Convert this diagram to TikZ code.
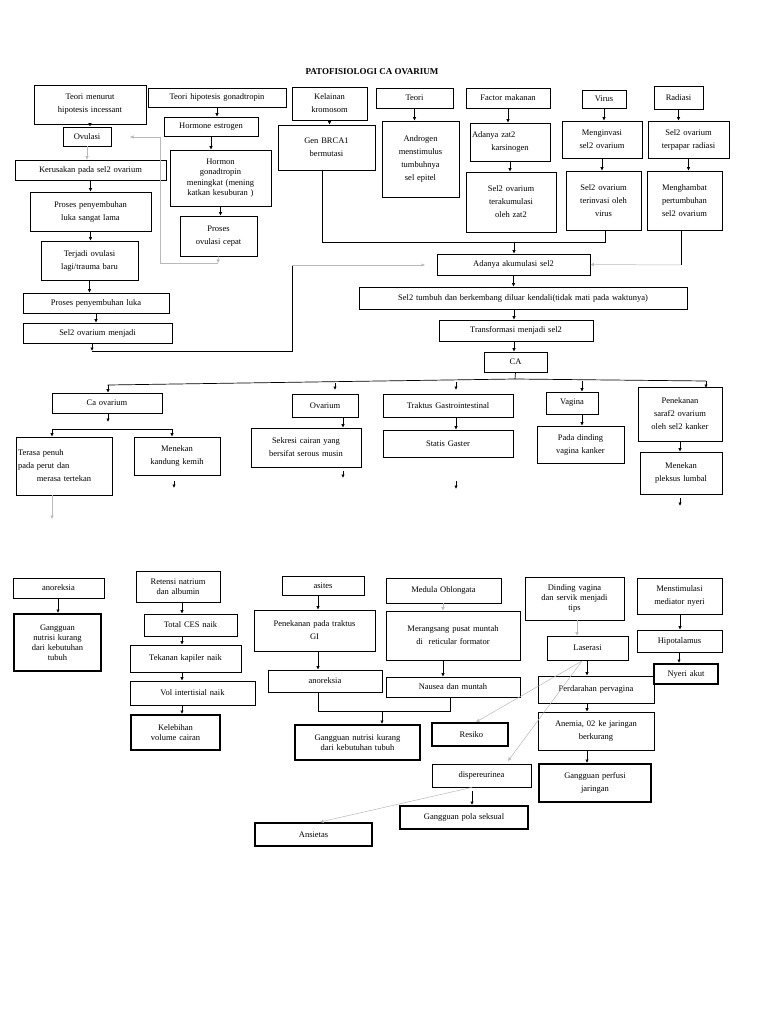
\documentclass[tikz,border=0pt]{standalone}
\usepackage{fontspec}
\setmainfont{Liberation Serif}
\usetikzlibrary{arrows.meta}
\tikzset{
 bx/.style={draw,line width=0.7pt,align=center,inner sep=1pt,font=\fontsize{8.5}{13}\selectfont},
 tk/.style={bx,line width=2pt},
 ar/.style={-{Latex[length=3.5pt,width=3.5pt]},line width=0.7pt},
 gar/.style={ar,draw=gray!55,line width=0.5pt},
 gl/.style={draw=gray!55,line width=0.5pt},
 ln/.style={line width=0.7pt}
}
\newcommand{\mybox}[7][bx]{%
 \pgfmathsetmacro{\cxx}{(#3+#5)/2}\pgfmathsetmacro{\cyy}{(#4+#6)/2}%
 \pgfmathsetmacro{\ww}{#5-#3}\pgfmathsetmacro{\hh}{#6-#4}\pgfmathsetmacro{\tw}{#5-#3-4}%
 \node[#1,minimum width=\ww pt,minimum height=\hh pt,text width=\tw pt] (#2) at (\cxx,\cyy) {#7};}
\newcommand{\down}[3][ar]{\draw[#1] (#2.south) -- (#2.south |- #3.north);}
\begin{document}
\begin{tikzpicture}[x=1pt,y=-1pt]
\useasboundingbox (0,0) rectangle (768,1024);
\fill[white] (0,0) rectangle (768,1024);
\node[font=\fontsize{9}{11}\selectfont\bfseries] (title) at (372,72) {PATOFISIOLOGI CA OVARIUM};
% left column
\mybox{t1}{34}{85}{146}{124}{Teori menurut\\hipotesis incessant}
\mybox{ov}{63}{127}{111}{146}{Ovulasi}
\mybox{ker}{15}{160}{166}{180}{Kerusakan pada sel2 ovarium}
\mybox{pp}{30}{192}{151}{231}{Proses penyembuhan\\luka sangat lama}
\mybox{tj}{41}{241}{138}{280}{Terjadi ovulasi\\lagi/trauma baru}
\mybox{ppl}{23}{293}{169}{313}{Proses penyembuhan luka}
\mybox{sel}{23}{323}{172}{343}{\raggedright Sel2 ovarium menjadi}
\mybox{gon}{148}{88}{286}{107}{Teori hipotesis gonadtropin}
\mybox{he}{164}{117}{258}{136}{Hormone estrogen}
\mybox[bx,font=\fontsize{8.5}{10.5}\selectfont]{hg}{170}{150}{271}{206}{Hormon\\gonadtropin\\meningkat (mening\\katkan kesuburan )}
\mybox{po}{180}{216}{257}{256}{Proses\\ovulasi cepat}
\down{t1}{ov}
\down[gar]{ov}{ker}
\down{ker}{pp}\down{pp}{tj}\down{tj}{ppl}\down{ppl}{sel}
\down{gon}{he}\down{he}{hg}\down{hg}{po}
\coordinate (g1) at (218,263);
\draw[gar] (po.south) -- (g1);
\draw[gar] (g1) -- (160,263) -- (160,137) -- (130,137);
\coordinate (s1) at (92,351);
\draw[ar] (sel.south -| s1) -- (s1);
% top causes
\mybox{kk}{292}{87}{367}{120}{Kelainan\\kromosom}
\mybox{gen}{278}{125}{375}{170}{Gen BRCA1\\bermutasi}
\mybox{teo}{376}{88}{453}{108}{Teori}
\mybox{and}{382}{121}{459}{197}{Androgen\\menstimulus\\tumbuhnya\\sel epitel}
\mybox{fm}{466}{88}{550}{108}{Factor makanan}
\mybox{az}{470}{123}{550}{161}{\raggedright Adanya zat2\\karsinogen}
\mybox{sak}{466}{172}{556}{232}{Sel2 ovarium\\terakumulasi\\oleh zat2}
\mybox{vir}{582}{90}{626}{108}{Virus}
\mybox{mi}{562}{121}{642}{158}{Menginvasi\\sel2 ovarium}
\mybox{sti}{566}{171}{641}{230}{Sel2 ovarium\\terinvasi oleh\\virus}
\mybox{rad}{654}{86}{703}{109}{Radiasi}
\mybox{str}{648}{121}{729}{158}{Sel2 ovarium\\terpapar radiasi}
\mybox{mh}{647}{171}{722}{230}{Menghambat\\pertumbuhan\\sel2 ovarium}
\draw[ar] (kk.south) -- (kk.south |- gen.north);
\down{teo}{and}\down{fm}{az}\down{az}{sak}\down{vir}{mi}\down{mi}{sti}\down{rad}{str}\down{str}{mh}
\mybox{aa}{437}{254}{590}{275}{Adanya akumulasi sel2}
\mybox{stb}{359}{287}{687}{309}{Sel2 tumbuh dan berkembang diluar kendali(tidak mati pada waktunya)}
\mybox{tr}{439}{320}{593}{341}{\raggedright Transformasi menjadi sel2}
\mybox{ca}{484}{352}{547}{372}{CA}
\draw[ln] (gen.south -| 322,0) -- (322,242) -- (605,242) -- (sti.south -| 605,0);
\draw[ar] (514,242) -- (aa.north -| 514,0);
\draw[ln] (mh.south -| 681,0) -- (681,265);
\draw[gar] (681,265) -- (aa.east);
\draw[ln] (s1) -- (292,351) -- (292,265);
\draw[gar] (292,265) -- (425,265);
\down{aa}{stb}
\draw[ar] (stb.south -| 514,0) -- (tr.north -| 514,0);
\draw[ar] (tr.south -| 514,0) -- (ca.north -| 514,0);
% CA branches
\mybox{cao}{52}{393}{162}{413}{\raggedright Ca ovarium}
\mybox{ovr}{292}{394}{358}{417}{Ovarium}
\mybox{tg}{383}{394}{513}{417}{Traktus Gastrointestinal}
\mybox{vag}{546}{392}{598}{414}{Vagina}
\mybox{pen}{638}{387}{722}{441}{Penekanan\\saraf2 ovarium\\oleh sel2 kanker}
\draw[ln] (ca.south) -- (515,379) -- (108,385) -- (108,386);
\draw[ln] (515,379) -- (706,381);
\draw[ar] (108,385) -- (cao.north -| 108,0);
\draw[ar] (335,383) -- (335,390);
\draw[ar] (456,382) -- (456,390);
\draw[ar] (582,381) -- (vag.north -| 582,0);
\draw[ar] (706,381) -- (706,388);
\mybox{ter}{16}{437}{112}{495}{\raggedright Terasa penuh\\pada perut dan\\merasa tertekan}
\mybox{mkk}{134}{437}{220}{475}{Menekan\\kandung kemih}
\mybox{sek}{251}{428}{361}{467}{Sekresi cairan yang\\bersifat serous musin}
\mybox{sg}{383}{430}{513}{457}{Statis Gaster}
\mybox{pdv}{537}{426}{624}{463}{Pada dinding\\vagina kanker}
\mybox{mpl}{640}{452}{722}{494}{Menekan\\pleksus lumbal}
\draw[ar] (cao.south -| 108,0) -- (108,422);
\draw[ln] (52,429) -- (172,429);
\draw[ar] (52,429) -- (ter.north -| 52,0);
\draw[ar] (172,429) -- (mkk.north -| 172,0);
\draw[ar] (ovr.south -| 343,0) -- (sek.north -| 343,0);
\draw[ar] (tg.south -| 456,0) -- (sg.north -| 456,0);
\draw[ar] (vag.south -| 582,0) -- (pdv.north -| 582,0);
\draw[ar] (pen.south -| 680,0) -- (mpl.north -| 680,0);
\coordinate (e1) at (52,519); \draw[gar] (ter.south -| e1) -- (e1);
\coordinate (e2) at (174,488); \draw[ar] (174,481) -- (e2);
\coordinate (e3) at (343,478); \draw[ar] (343,471) -- (e3);
\coordinate (e4) at (456,489); \draw[ar] (456,481) -- (e4);
\coordinate (e5) at (680,506); \draw[ar] (680,498) -- (e5);
% bottom
\mybox{an1}{13}{578}{104}{598}{anoreksia}
\mybox[tk,font=\fontsize{8.5}{10}\selectfont]{gn1}{14}{614}{101}{671}{Gangguan\\nutrisi kurang\\dari kebutuhan\\tubuh}
\mybox[bx,font=\fontsize{8.5}{10.5}\selectfont]{ret}{136}{571}{220}{602}{Retensi natrium\\dan albumin}
\mybox{tc}{144}{614}{237}{636}{Total CES naik}
\mybox{tkn}{130}{645}{241}{672}{\raggedright Tekanan kapiler naik}
\mybox{vol}{130}{681}{255}{705}{\raggedright Vol intertisial naik}
\mybox[tk,font=\fontsize{8.5}{10.5}\selectfont]{kvc}{131}{715}{220}{750}{Kelebihan\\volume cairan}
\mybox{as}{282}{576}{364}{595}{asites}
\mybox{ptg}{254}{610}{375}{651}{Penekanan pada traktus\\GI}
\mybox{an2}{268}{670}{382}{692}{anoreksia}
\mybox[tk,font=\fontsize{8.5}{10.5}\selectfont]{gn2}{295}{725}{420}{760}{Gangguan nutrisi kurang\\dari kebutuhan tubuh}
\mybox{mo}{386}{578}{501}{603}{Medula Oblongata}
\mybox{mp}{386}{611}{520}{660}{Merangsang pusat muntah\\di\ \ reticular formator}
\mybox{nm}{386}{677}{520}{697}{Nausea dan muntah}
\mybox[bx,font=\fontsize{8.5}{10}\selectfont]{dv}{525}{577}{624}{620}{Dinding vagina\\dan servik menjadi\\tips}
\mybox{las}{547}{636}{628}{660}{Laserasi}
\mybox{per}{538}{676}{654}{703}{Perdarahan pervagina}
\mybox{ane}{538}{712}{654}{750}{Anemia, 02 ke jaringan\\berkurang}
\mybox[tk]{gpj}{539}{764}{651}{802}{Gangguan perfusi\\jaringan}
\mybox{msm}{637}{578}{722}{614}{Menstimulasi\\mediator nyeri}
\mybox{hip}{637}{630}{722}{652}{Hipotalamus}
\mybox[tk]{nya}{654}{664}{718}{684}{Nyeri akut}
\mybox[tk]{res}{432}{723}{508}{746}{\raggedright\ Resiko}
\mybox{dis}{432}{764}{531}{787}{dispereurinea}
\mybox[tk]{gps}{400}{806}{528}{829}{Gangguan pola seksual}
\mybox[tk]{ans}{255}{823}{372}{846}{Ansietas}
\draw[ar] (an1.south -| 58,0) -- (gn1.north -| 58,0);
\draw[ar] (ret.south -| 182,0) -- (tc.north -| 182,0);
\draw[ar] (tc.south -| 182,0) -- (tkn.north -| 182,0);
\draw[ar] (tkn.south -| 182,0) -- (vol.north -| 182,0);
\draw[ar] (vol.south -| 182,0) -- (kvc.north -| 182,0);
\draw[ar] (as.south -| 318,0) -- (ptg.north -| 318,0);
\draw[ar] (ptg.south -| 318,0) -- (an2.north -| 318,0);
\draw[ln] (an2.south -| 318,0) -- (318,711) -- (450,711) -- (nm.south -| 450,0);
\draw[ar] (382,711) -- (gn2.north -| 382,0);
\draw[gar] (mo.south -| 443,0) -- (mp.north -| 443,0);
\draw[ar] (mp.south -| 443,0) -- (nm.north -| 443,0);
\draw[gar] (dv.south -| 577,0) -- (las.north -| 577,0);
\draw[ar] (las.south -| 587,0) -- (per.north -| 587,0);
\draw[ar] (per.south -| 587,0) -- (ane.north -| 587,0);
\draw[ar] (ane.south -| 587,0) -- (gpj.north -| 587,0);
\draw[ar] (msm.south -| 680,0) -- (hip.north -| 680,0);
\draw[ar] (hip.south -| 679,0) -- (nya.north -| 679,0);
\draw[gar] (582,661) -- (476,722);
\draw[gar] (582,661) -- (508,761);
\draw[gar] (dis.south -| 472,0) -- (ans.north -| 320,0);
\draw[ar] (472,791) -- (gps.north -| 472,0);
\end{tikzpicture}
\end{document}
